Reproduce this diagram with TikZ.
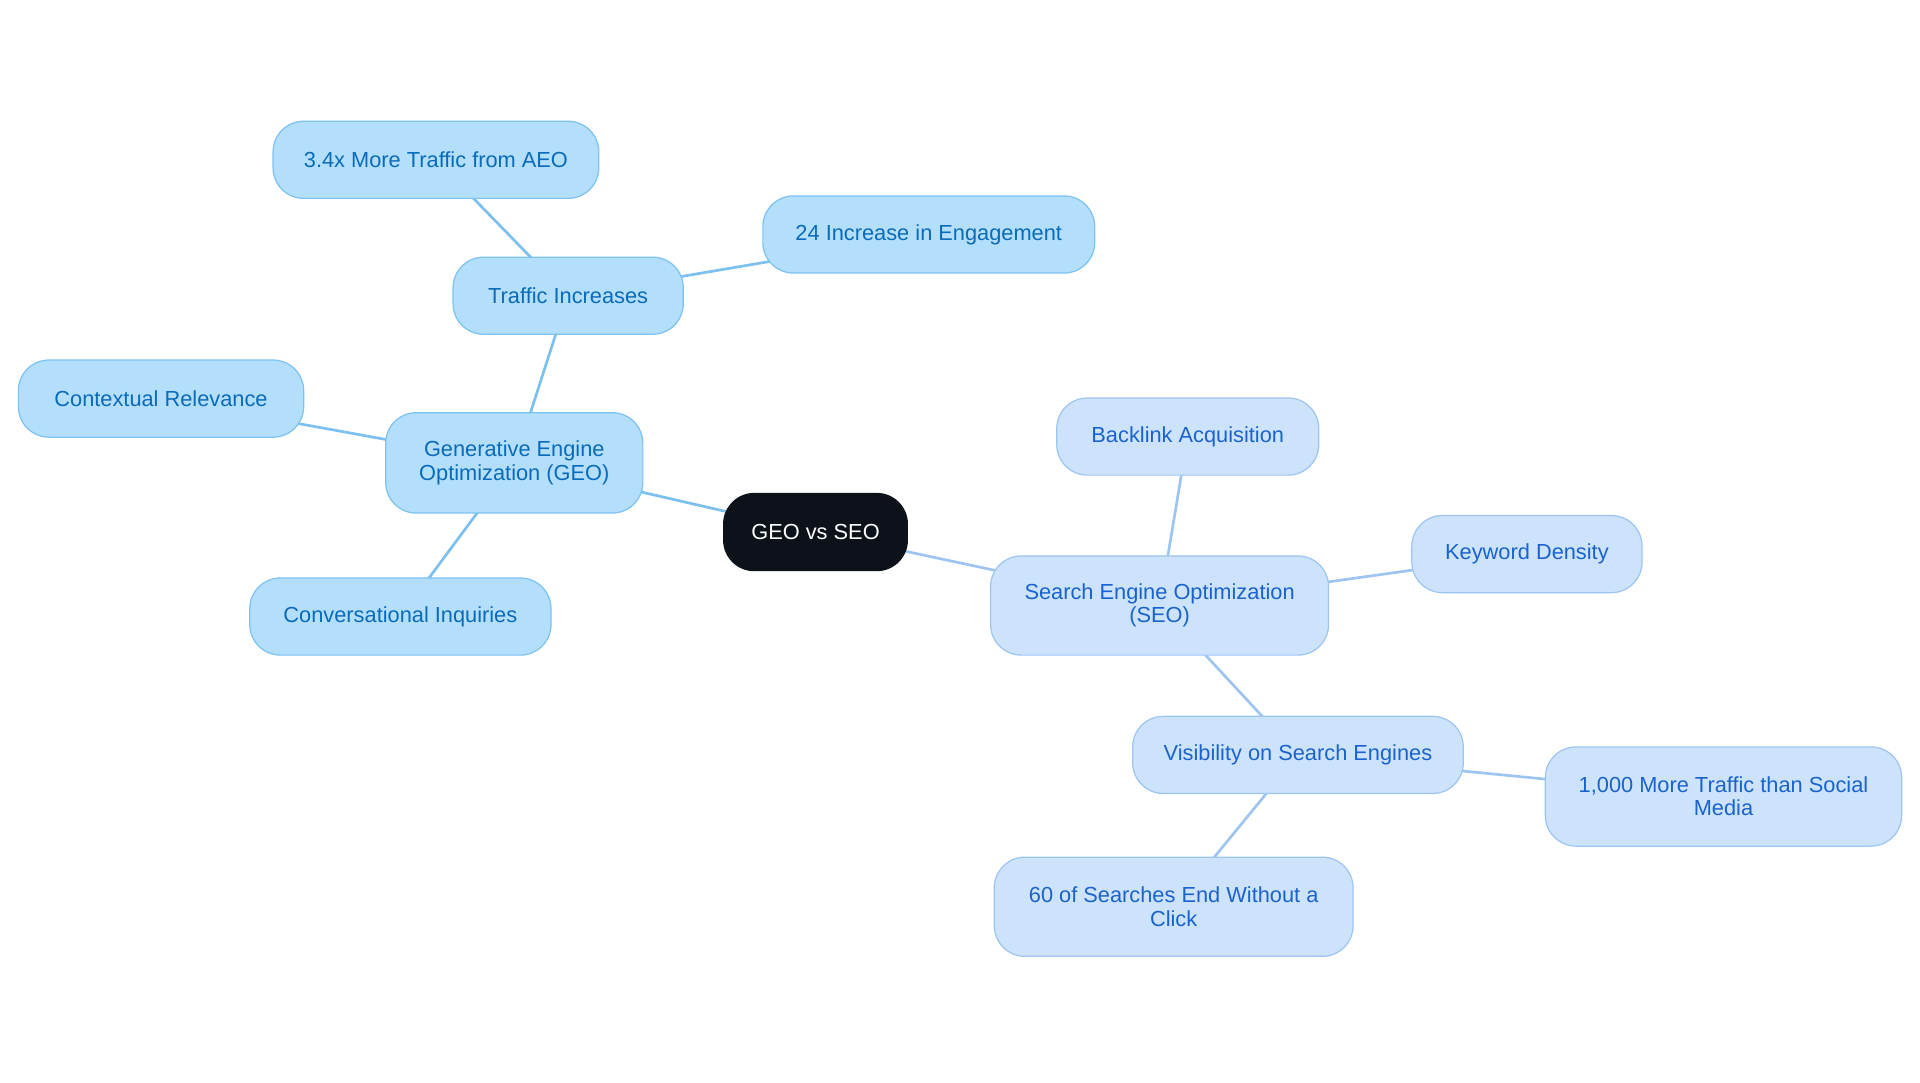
\documentclass[tikz,border=0pt]{standalone}
\usepackage{fontspec}
\setmainfont{Liberation Sans}
\usetikzlibrary{backgrounds}
\definecolor{geofill}{HTML}{B3DFFD}
\definecolor{geodraw}{HTML}{7CC2F2}
\definecolor{geotext}{HTML}{0A6BBA}
\definecolor{seofill}{HTML}{CDE3FB}
\definecolor{seodraw}{HTML}{9DC5F3}
\definecolor{seotext}{HTML}{1A63CF}
\definecolor{rootfill}{HTML}{0D121A}
\definecolor{geoline}{HTML}{7CC0F0}
\definecolor{seoline}{HTML}{9EC5F2}
\begin{document}
\begin{tikzpicture}[x=1pt,y=-1pt,
  base/.style={rounded corners=25pt, align=center, font=\fontsize{17.8}{19}\selectfont, inner sep=0pt, line width=1pt},
  geo/.style={base, fill=geofill, draw=geodraw, text=geotext},
  seo/.style={base, fill=seofill, draw=seodraw, text=seotext},
  root/.style={base, fill=rootfill, draw=rootfill, text=white},
  sz/.style 2 args={minimum width=#1pt, minimum height=#2pt},
  geoedge/.style={draw=geoline, line width=2.2pt},
  seoedge/.style={draw=seoline, line width=2.2pt}]
\useasboundingbox (0,0) rectangle (1568,884.4);

\node[root, sz={150}{63}] (root) at (666,434.5) {GEO vs SEO};

\node[geo, sz={210}{82}] (geo) at (420,378) {Generative Engine\\Optimization (GEO)};
\node[geo, sz={188}{63}] (traffic) at (464,241.5) {Traffic Increases};
\node[geo, sz={266}{63}] (aeo) at (356,130.5) {3.4x More Traffic from AEO};
\node[geo, sz={271}{63}] (engage) at (758.5,191.5) {24 Increase in Engagement};
\node[geo, sz={233}{63}] (context) at (131.5,325.5) {Contextual Relevance};
\node[geo, sz={246}{63}] (conv) at (327,503.5) {Conversational Inquiries};

\node[seo, sz={276}{81}] (seo) at (947,494.5) {Search Engine Optimization\\(SEO)};
\node[seo, sz={214}{63}] (backlink) at (970,356.5) {Backlink Acquisition};
\node[seo, sz={188}{63}] (keyword) at (1247,452.5) {Keyword Density};
\node[seo, sz={270}{63}] (visib) at (1060,616.5) {Visibility on Search Engines};
\node[seo, sz={291}{81}] (social) at (1407.5,650.5) {1,000 More Traffic than Social\\Media};
\node[seo, sz={293}{81}] (click) at (958.5,740.5) {60 of Searches End Without a\\Click};

\begin{scope}[on background layer]
\draw[geoedge] (root.center) -- (geo.center);
\draw[seoedge] (root.center) -- (seo.center);
\draw[geoedge] (geo.center) -- (traffic.center);
\draw[geoedge] (traffic.center) -- (aeo.center);
\draw[geoedge] (traffic.center) -- (engage.center);
\draw[geoedge] (geo.center) -- (context.center);
\draw[geoedge] (geo.center) -- (conv.center);
\draw[seoedge] (seo.center) -- (backlink.center);
\draw[seoedge] (seo.center) -- (keyword.center);
\draw[seoedge] (seo.center) -- (visib.center);
\draw[seoedge] (visib.center) -- (social.center);
\draw[seoedge] (visib.center) -- (click.center);
\end{scope}
\end{tikzpicture}
\end{document}
